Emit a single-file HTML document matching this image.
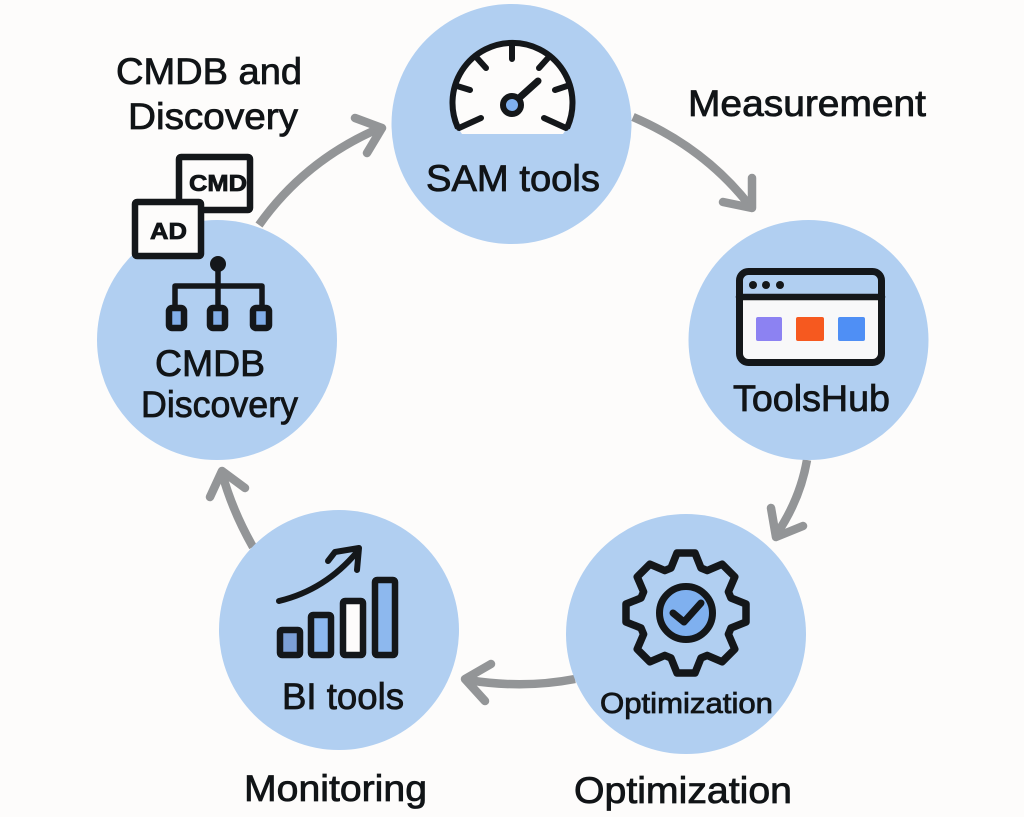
<!DOCTYPE html>
<html>
<head>
<meta charset="utf-8">
<style>
html,body{margin:0;padding:0;background:#fdfcfb;width:1024px;height:817px;overflow:hidden}
svg{display:block}
text{font-family:"Liberation Sans",sans-serif;fill:#111417;stroke:#111417;stroke-width:.8}
.ar{fill:none;stroke:#939597;stroke-width:8.5;stroke-linecap:round;stroke-linejoin:round}
.ic{stroke:#14171a;stroke-linejoin:round;stroke-linecap:round}
</style>
</head>
<body>
<svg width="1024" height="817" viewBox="0 0 1024 817" xmlns="http://www.w3.org/2000/svg">
<rect width="1024" height="817" fill="#fdfcfb"/>

<!-- connectors -->
<g class="ar">
<path d="M259 225Q305 160 380 128" stroke-linecap="butt"/>
<path d="M355 118L382 128L367 153"/>
<path d="M633 117Q705 148 750 206" stroke-linecap="butt"/>
<path d="M752 178L752 208L723 202"/>
<path d="M807 460Q800 500 776 535" stroke-linecap="butt"/>
<path d="M771 508L776 537L803 526"/>
<path d="M575 679Q523 689 468 680" stroke-linecap="butt"/>
<path d="M491 664L465 679L485 701"/>
<path d="M253 547Q232 510 222 473" stroke-linecap="butt"/>
<path d="M210 497L222 471L245 488"/>
</g>

<!-- circles -->
<g fill="#b1cff1">
<circle cx="511.500" cy="124" r="120"/>
<circle cx="808.500" cy="340" r="120"/>
<circle cx="686" cy="634" r="120"/>
<circle cx="339" cy="630" r="120"/>
<circle cx="217" cy="340" r="120"/>
</g>

<!-- gauge -->
<path d="M462 134L458 128A60 60 0 1 1 567 128L563 134Z" fill="#fdfcfb"/>
<g class="ic" fill="none" stroke-width="6">
<path d="M458 128A60 60 0 1 1 567 128" stroke-linecap="butt"/>
<path d="M512 46V59M477 58L486 68M548 58L539 68M457 86L470 90M567 86L555 90M459 128L481 118M566 128L544 118"/>
<path d="M518 99L538 81" stroke-width="7"/>
<circle cx="512" cy="105" r="9" fill="#7fb0ef"/>
</g>

<!-- window -->
<rect x="739" y="271" width="143" height="92" rx="9" fill="#f8f8f9"/>
<path d="M739 297V280a9 9 0 0 1 9-9h125a9 9 0 0 1 9 9v17z" fill="#b1cff1"/>
<rect x="739.500" y="271.500" width="142" height="91" rx="9" fill="none" class="ic" stroke-width="7"/>
<path d="M739 297H882" class="ic" stroke-width="6.500"/>
<circle cx="753" cy="285" r="4" fill="#14171a"/>
<circle cx="766" cy="285" r="4" fill="#14171a"/>
<circle cx="780" cy="285" r="4" fill="#14171a"/>
<rect x="756" y="317" width="26" height="24" rx="2" fill="#8c82f2"/>
<rect x="796" y="317" width="28" height="24" rx="2" fill="#f6591f"/>
<rect x="838" y="317" width="27" height="24" rx="2" fill="#4f8ff5"/>

<!-- gear -->
<g transform="translate(686 613) scale(1 -1)">
<polygon class="ic" fill="#b1cff1" stroke-width="7.500" points="-15,45 -9,60 9,60 15,45 21.2,42.4 36.1,48.8 48.8,36.1 42.4,21.2 45,15 60,9 60,-9 45,-15 42.4,-21.2 48.8,-36.1 36.1,-48.8 21.2,-42.4 15,-45 9,-60 -9,-60 -15,-45 -21.2,-42.4 -36.1,-48.8 -48.8,-36.1 -42.4,-21.2 -45,-15 -60,-9 -60,9 -45,15 -42.4,21.2 -48.8,36.1 -36.1,48.8 -21.2,42.4"/>
</g>
<circle cx="686" cy="613" r="26.500" class="ic" fill="#7fb0ef" stroke-width="7"/>
<path d="M673 613L684 622L701 603" class="ic" fill="none" stroke-width="7"/>

<!-- bars -->
<g class="ic" stroke-width="6.500">
<path d="M279 601Q325 590 357 552" fill="none" stroke-width="6"/>
<path d="M328 561L335 552L359 548L357 570" fill="none" stroke-width="6"/>
<rect x="280" y="630" width="20" height="25" rx="2" fill="#7c9fd6"/>
<rect x="311" y="615" width="20" height="40" rx="2" fill="#8db8ee"/>
<rect x="343" y="601" width="20" height="54" rx="2" fill="#fdfcfb"/>
<rect x="375" y="580" width="20" height="75" rx="2" fill="#8db8ee"/>
</g>

<!-- CMDB icons -->
<g class="ic" stroke-width="6.500">
<rect x="179" y="157" width="71" height="53" rx="2" fill="#fdfcfb"/>
<rect x="135" y="202" width="66" height="54" rx="2" fill="#fdfcfb"/>
</g>
<text x="189" y="191" font-size="23" font-weight="700" textLength="58" lengthAdjust="spacingAndGlyphs">CMD</text>
<text x="150" y="239" font-size="23" font-weight="700" textLength="37" lengthAdjust="spacingAndGlyphs">AD</text>
<circle cx="218" cy="264" r="8" fill="#14171a"/>
<path d="M218 264V306M175 306V286H262V306" class="ic" fill="none" stroke-width="5.500"/>
<g class="ic" stroke-width="6.500" fill="#82aee8">
<rect x="169" y="308" width="15" height="20" rx="3"/>
<rect x="210" y="308" width="15" height="20" rx="3"/>
<rect x="253" y="308" width="16" height="20" rx="3"/>
</g>

<!-- labels -->
<text x="116" y="84" font-size="37" textLength="186" lengthAdjust="spacingAndGlyphs">CMDB and</text>
<text x="128" y="129" font-size="37" textLength="170" lengthAdjust="spacingAndGlyphs">Discovery</text>
<text x="688" y="116" font-size="37" textLength="238" lengthAdjust="spacingAndGlyphs">Measurement</text>
<text x="426" y="191" font-size="37" textLength="174" lengthAdjust="spacingAndGlyphs">SAM tools</text>
<text x="733" y="411" font-size="37" textLength="157" lengthAdjust="spacingAndGlyphs">ToolsHub</text>
<text x="600" y="713" font-size="29" textLength="173" lengthAdjust="spacingAndGlyphs">Optimization</text>
<text x="282" y="709" font-size="37" textLength="122" lengthAdjust="spacingAndGlyphs">BI tools</text>
<text x="155" y="376" font-size="37" textLength="110" lengthAdjust="spacingAndGlyphs">CMDB</text>
<text x="141" y="417" font-size="37" textLength="157" lengthAdjust="spacingAndGlyphs">Discovery</text>
<text x="244" y="801" font-size="37" textLength="183" lengthAdjust="spacingAndGlyphs">Monitoring</text>
<text x="574" y="803" font-size="37" textLength="218" lengthAdjust="spacingAndGlyphs">Optimization</text>
</svg>
</body>
</html>
